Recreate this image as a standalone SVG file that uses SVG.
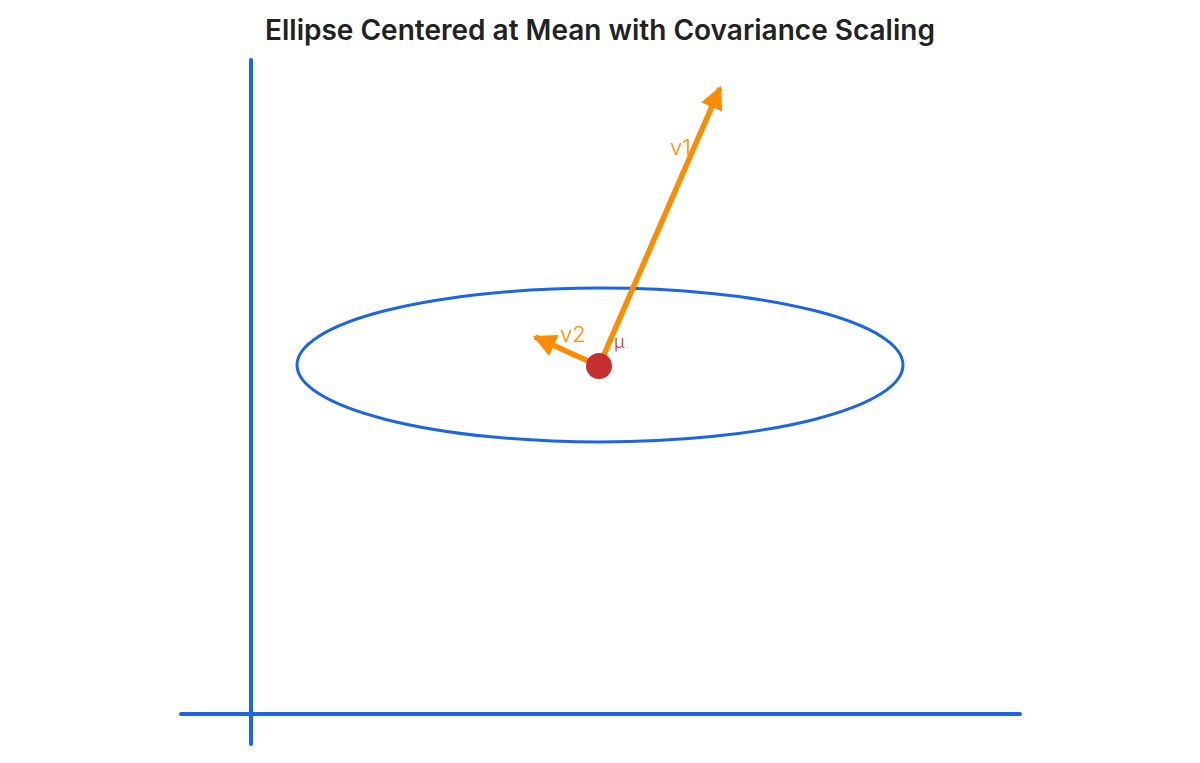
<svg xmlns="http://www.w3.org/2000/svg" width="1200" height="763" viewBox="0 0 1200 763">
<style>
.axis{stroke:#1a66e6;stroke-width:4;stroke-linecap:round;fill:none}
.vec{stroke:#ff8c00;stroke-width:5.5;fill:none}
.lbl{font-family:"Inter","Liberation Sans",sans-serif;font-size:22px;font-weight:300;fill:#ff8c00}
</style>
<defs>
<marker id="ah" viewBox="0 0 10 10" refX="9" refY="5" markerWidth="4.2" markerHeight="4.2" markerUnits="strokeWidth" orient="auto">
<path d="M0,0 L10,5 L0,10 Z" fill="#ff8c00"/>
</marker>
</defs>
<rect width="1200" height="763" fill="#ffffff"/>
<text x="600" y="40" text-anchor="middle" font-family="Inter,'Liberation Sans',sans-serif" font-size="28" font-weight="600" fill="#222222">Ellipse Centered at Mean with Covariance Scaling</text>
<g id="axes">
<line class="axis" x1="251" y1="60" x2="251" y2="744"/>
<line class="axis" x1="181" y1="714" x2="1020" y2="714"/>
</g>
<g id="ellipse">
<ellipse cx="600" cy="365" rx="303" ry="77" fill="none" stroke="#1a66e6" stroke-width="3"/>
</g>
<g id="connectors">
<line id="v1" class="vec" x1="599" y1="366" x2="720" y2="88" marker-end="url(#ah)"/>
<line id="v2" class="vec" x1="599" y1="366" x2="535" y2="337" marker-end="url(#ah)"/>
</g>
<g id="mean">
<circle cx="599" cy="366" r="13" fill="#c62f2f"/>
<text x="614" y="348" font-family="Inter,'Liberation Sans',sans-serif" font-size="18" font-weight="300" fill="#c62f2f">μ</text>
</g>
<g id="labels">
<text class="lbl" x="670" y="155">v1</text>
<text class="lbl" x="560" y="342">v2</text>
</g>
</svg>
